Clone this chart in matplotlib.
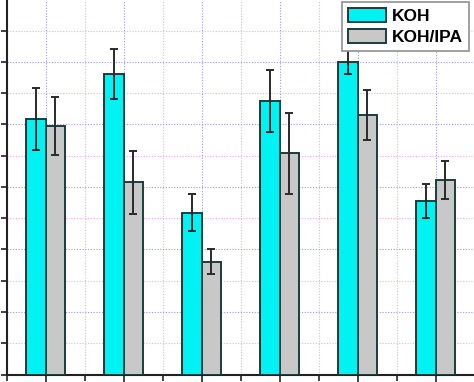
import numpy as np
import matplotlib
matplotlib.use('Agg')
import matplotlib.pyplot as plt
from matplotlib.ticker import MultipleLocator

# Bar heights and error bars (arbitrary units, no labels shown)
groups = [1, 2, 3, 4, 5, 6]
koh = [8.16, 9.61, 5.17, 8.75, 9.99, 5.55]
koh_err = [0.99, 0.80, 0.59, 0.99, 0.39, 0.53]
koh_ipa = [7.95, 6.15, 3.60, 7.07, 8.29, 6.23]
koh_ipa_err = [0.93, 1.00, 0.40, 1.29, 0.80, 0.61]
series_labels = ['KOH', 'KOH/IPA']

W, H = 474, 382
fig = plt.figure(figsize=(W / 100, H / 100), dpi=100)
ax = fig.add_axes([6.5 / W, (H - 374.5) / H, 468 / W, 374.5 / H])

x = np.array(groups)
width = 0.25
edge = '#1c3c3c'
err_kw = dict(ecolor='#2a2a2a', elinewidth=1.4, capsize=3, capthick=1.4)

ax.bar(x - width / 2, koh, width, yerr=koh_err, color='#00f2f2', edgecolor=edge,
       linewidth=1.4, error_kw=err_kw, label=series_labels[0], zorder=3)
ax.bar(x + width / 2, koh_ipa, width, yerr=koh_ipa_err, color='#c8c8c8', edgecolor=edge,
       linewidth=1.4, error_kw=err_kw, label=series_labels[1], zorder=3)

ax.set_xlim(0.5, 6.5)
ax.set_ylim(0, 11.98)

ax.xaxis.set_major_locator(MultipleLocator(1))
ax.xaxis.set_minor_locator(MultipleLocator(0.5))
ax.yaxis.set_major_locator(MultipleLocator(2))
ax.yaxis.set_minor_locator(MultipleLocator(1))
ax.set_xticklabels([])
ax.set_yticklabels([])
ax.tick_params(axis='both', which='both', direction='out', color='#222222', width=1.2)
ax.tick_params(axis='x', which='major', length=7)
ax.tick_params(axis='x', which='minor', length=4)
ax.tick_params(axis='y', which='both', length=4)

ax.grid(which='major', color='#9a9ae6', linestyle=(0, (1, 1.5)), linewidth=0.8, zorder=0)
ax.grid(which='minor', color='#f2aaf2', linestyle=(0, (1, 1.5)), linewidth=0.8, zorder=0)
ax.set_axisbelow(True)

for side in ['top', 'right']:
    ax.spines[side].set_visible(False)
for side in ['left', 'bottom']:
    ax.spines[side].set_linewidth(1.5)
    ax.spines[side].set_color('#222222')

leg = fig.legend(loc='upper right', bbox_to_anchor=(469 / W, 1 - 2 / H),
                 prop={'family': 'Liberation Sans', 'weight': 'bold', 'size': 12.5},
                 fancybox=False, framealpha=1, edgecolor='#909090',
                 handlelength=2.2, handleheight=0.85, handletextpad=0.35,
                 labelspacing=0.3, borderpad=0.35, borderaxespad=0)
leg.get_frame().set_linewidth(1.2)

fig.savefig('out.png', dpi=100)
